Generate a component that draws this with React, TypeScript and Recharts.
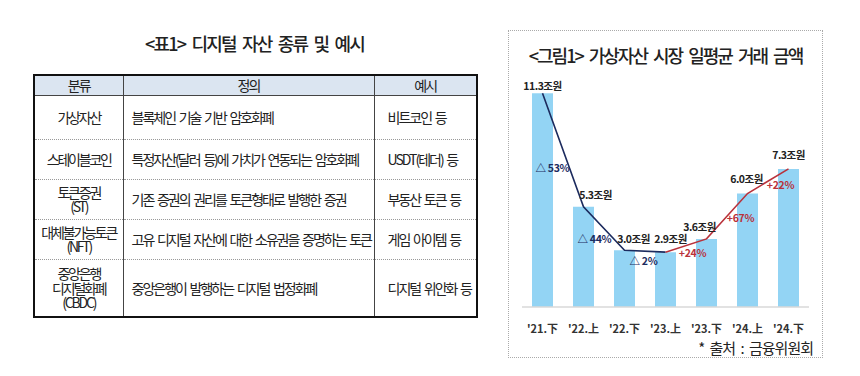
import { ComposedChart, Bar, Line, XAxis, YAxis, LabelList } from "recharts";

const CATEGORIES = ["'21.下", "'22.上", "'22.下", "'23.上", "'23.下", "'24.上", "'24.下"];
const AMOUNTS = [11.3, 5.3, 3.0, 2.9, 3.6, 6.0, 7.3];
const CHANGES = ["", "△ 53%", "△ 44%", "△ 2%", "+24%", "+67%", "+22%"];
const TURN_INDEX = 3;

const TABLE_HEAD = ["분류", "정의", "예시"];
const TABLE_KINDS = ["가상자산", "스테이블코인", "토큰증권\n(ST)", "대체불가능토큰\n(NFT)", "중앙은행\n디지털화폐\n(CBDC)"];
const TABLE_DEFS = [
    "블록체인 기술 기반 암호화폐",
    "특정자산(달러 등)에 가치가 연동되는 암호화폐",
    "기존 증권의 권리를 토큰형태로 발행한 증권",
    "고유 디지털 자산에 대한 소유권을 증명하는 토큰",
    "중앙은행이 발행하는 디지털 법정화폐",
];
const TABLE_EXAMPLES = ["비트코인 등", "USDT(테더) 등", "부동산 토큰 등", "게임 아이템 등", "디지털 위안화 등"];

const ROW_HEIGHTS = [44, 40, 40, 40, 58];
const VALUE_OFFSETS = [[0, -8], [12, -12], [9, -12], [5, -14], [-7, -12], [-1, -15], [0, -14]];
const CHANGE_OFFSETS = [[0, 0], [-31, -39], [-30, -12], [-22, 8], [-14, 14], [-7, 24], [-8, 16]];

const NAVY = "#1c2b5e";
const RED = "#b9323b";
const FONT = "'Noto Sans CJK KR', 'Noto Sans', sans-serif";

const data = CATEGORIES.map((name, i) => ({
    name,
    amount: AMOUNTS[i],
    fall: i <= TURN_INDEX ? AMOUNTS[i] : null,
    rise: i >= TURN_INDEX ? AMOUNTS[i] : null,
    label: AMOUNTS[i].toFixed(1) + "조원",
    change: CHANGES[i],
}));

const ValueLabel = (props: any) => {
    const { x, y, width, index, value } = props;
    const [dx, dy] = VALUE_OFFSETS[index];
    return (
        <text
            x={x + width / 2 + dx}
            y={y + dy}
            textAnchor="middle"
            dominantBaseline="central"
            fontSize={10.5}
            fontWeight={700}
            fill="#222"
            letterSpacing={-0.5}
        >
            {value}
        </text>
    );
};

const ChangeLabel = (props: any) => {
    const { x, y, width, index, value } = props;
    if (!value) return null;
    const [dx, dy] = CHANGE_OFFSETS[index];
    const up = String(value).startsWith("+");
    return (
        <text
            x={x + width / 2 + dx}
            y={y + dy}
            textAnchor="middle"
            dominantBaseline="central"
            fontSize={10.5}
            fontWeight={700}
            fill={up ? RED : NAVY}
            letterSpacing={-0.3}
        >
            {value}
        </text>
    );
};

const cellBase: React.CSSProperties = {
    borderLeft: "1px solid #444",
    borderRight: "1px solid #444",
    borderBottom: "1px dotted #999",
    padding: 0,
    fontSize: 14,
    letterSpacing: -2,
    wordSpacing: 2.5,
    color: "#222",
    lineHeight: "14px",
    whiteSpace: "nowrap",
};

const App = () => {
    return (
        <div
            style={{
                position: "absolute",
                left: 0,
                top: 0,
                width: 860,
                height: 376,
                background: "#fff",
                fontFamily: FONT,
                overflow: "hidden",
            }}
        >
            <div
                style={{
                    position: "absolute",
                    left: 33,
                    top: 30,
                    width: 443,
                    textAlign: "center",
                    fontSize: 18,
                    letterSpacing: -1.8,
                    wordSpacing: 4,
                    color: "#222",
                    fontWeight: 500,
                }}
            >
                {"<표1> 디지털 자산 종류 및 예시"}
            </div>
            <table
                style={{
                    position: "absolute",
                    left: 33,
                    top: 74,
                    width: 443,
                    borderCollapse: "collapse",
                    border: "2px solid #111",
                    tableLayout: "fixed",
                    fontFamily: FONT,
                }}
            >
                <colgroup>
                    <col style={{ width: 89 }} />
                    <col style={{ width: 251 }} />
                    <col style={{ width: 103 }} />
                </colgroup>
                <thead>
                    <tr style={{ height: 20, background: "#dbe5f1" }}>
                        {TABLE_HEAD.map((h) => (
                            <th
                                key={h}
                                style={{
                                    ...cellBase,
                                    fontWeight: 400,
                                    borderBottom: "1px solid #444",
                                    textAlign: "center",
                                }}
                            >
                                {h}
                            </th>
                        ))}
                    </tr>
                </thead>
                <tbody>
                    {TABLE_KINDS.map((kind, i) => (
                        <tr key={kind} style={{ height: ROW_HEIGHTS[i] }}>
                            <td
                                style={{
                                    ...cellBase,
                                    textAlign: "center",
                                    whiteSpace: "pre",
                                    lineHeight: "14.5px",
                                    letterSpacing: -2.2,
                                }}
                            >
                                {kind}
                            </td>
                            <td style={{ ...cellBase, paddingLeft: 8 }}>{TABLE_DEFS[i]}</td>
                            <td style={{ ...cellBase, paddingLeft: 13 }}>{TABLE_EXAMPLES[i]}</td>
                        </tr>
                    ))}
                </tbody>
            </table>

            <div
                style={{
                    position: "absolute",
                    left: 508,
                    top: 30,
                    width: 313,
                    height: 326,
                    border: "1px dotted #aaa",
                }}
            />
            <div
                style={{
                    position: "absolute",
                    left: 508,
                    top: 42,
                    width: 315,
                    textAlign: "center",
                    fontSize: 18,
                    letterSpacing: -2,
                    wordSpacing: 4,
                    color: "#222",
                    fontWeight: 500,
                }}
            >
                {"<그림1> 가상자산 시장 일평균 거래 금액"}
            </div>
            <div style={{ position: "absolute", left: 508, top: 30 }}>
                <ComposedChart
                    width={315}
                    height={328}
                    data={data}
                    margin={{ top: 50, right: 14, bottom: 21, left: 14 }}
                    style={{ fontFamily: FONT }}
                >
                    <XAxis
                        dataKey="name"
                        height={30}
                        tickLine={false}
                        axisLine={{ stroke: "#d9d9d9", strokeWidth: 1.5 }}
                        tickSize={0}
                        tickMargin={18}
                        tick={{ fontSize: 11, fontWeight: 700, fill: "#333" }}
                        interval={0}
                    />
                    <YAxis hide domain={[0, 12]} />
                    <Bar dataKey="amount" fill="#93d4f4" barSize={21} isAnimationActive={false}>
                        <LabelList dataKey="label" content={<ValueLabel />} />
                        <LabelList dataKey="change" content={<ChangeLabel />} />
                    </Bar>
                    <Line
                        dataKey="fall"
                        stroke={NAVY}
                        strokeWidth={1.6}
                        dot={false}
                        activeDot={false}
                        isAnimationActive={false}
                    />
                    <Line
                        dataKey="rise"
                        stroke={RED}
                        strokeWidth={1.6}
                        dot={false}
                        activeDot={false}
                        isAnimationActive={false}
                    />
                </ComposedChart>
            </div>
            <div
                style={{
                    position: "absolute",
                    right: 860 - 813,
                    top: 337,
                    fontSize: 15,
                    letterSpacing: -1,
                    wordSpacing: 3,
                    color: "#222",
                }}
            >
                {"* 출처 : 금융위원회"}
            </div>
        </div>
    );
};

export default App;
